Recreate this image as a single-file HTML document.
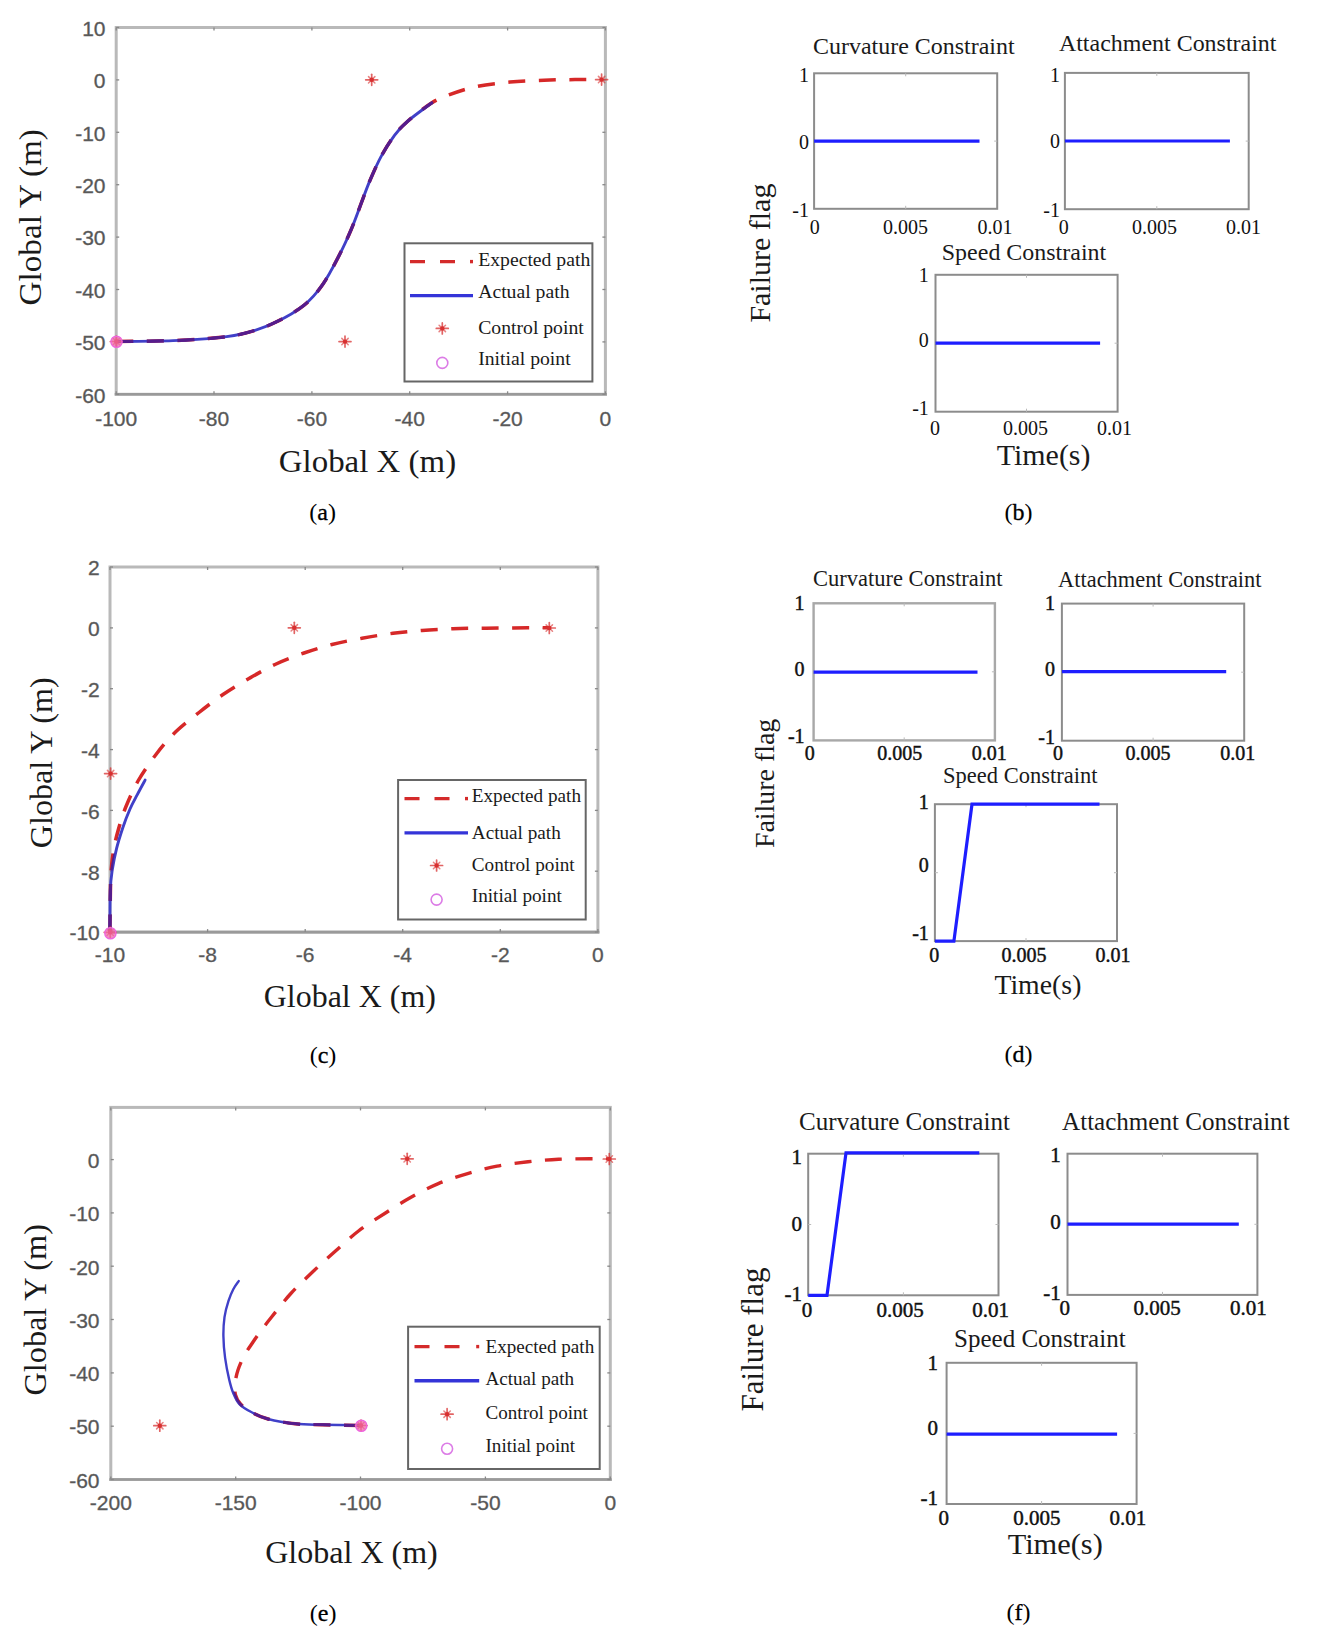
<!DOCTYPE html><html><head><meta charset="utf-8"><style>html,body{margin:0;padding:0;background:#fff;overflow:hidden;}svg{display:block;}</style></head><body>
<svg width="1324" height="1642" viewBox="0 0 1324 1642">
<rect width="1324" height="1642" fill="#fff"/>
<rect x="116.2" y="27.5" width="489.2" height="366.8" fill="#fff" stroke="#b9b9b9" stroke-width="3.0"/>
<line x1="114.7" y1="394.3" x2="606.9" y2="394.3" stroke="#9a9a9a" stroke-width="2.6"/>
<g stroke="#888" stroke-width="1.3">
<line x1="116.2" y1="394.3" x2="116.2" y2="391.3"/>
<line x1="116.2" y1="27.5" x2="116.2" y2="30.5"/>
<line x1="214.0" y1="394.3" x2="214.0" y2="391.3"/>
<line x1="214.0" y1="27.5" x2="214.0" y2="30.5"/>
<line x1="311.9" y1="394.3" x2="311.9" y2="391.3"/>
<line x1="311.9" y1="27.5" x2="311.9" y2="30.5"/>
<line x1="409.7" y1="394.3" x2="409.7" y2="391.3"/>
<line x1="409.7" y1="27.5" x2="409.7" y2="30.5"/>
<line x1="507.6" y1="394.3" x2="507.6" y2="391.3"/>
<line x1="507.6" y1="27.5" x2="507.6" y2="30.5"/>
<line x1="605.4" y1="394.3" x2="605.4" y2="391.3"/>
<line x1="605.4" y1="27.5" x2="605.4" y2="30.5"/>
<line x1="116.2" y1="27.5" x2="119.2" y2="27.5"/>
<line x1="605.4" y1="27.5" x2="602.4" y2="27.5"/>
<line x1="116.2" y1="79.9" x2="119.2" y2="79.9"/>
<line x1="605.4" y1="79.9" x2="602.4" y2="79.9"/>
<line x1="116.2" y1="132.3" x2="119.2" y2="132.3"/>
<line x1="605.4" y1="132.3" x2="602.4" y2="132.3"/>
<line x1="116.2" y1="184.7" x2="119.2" y2="184.7"/>
<line x1="605.4" y1="184.7" x2="602.4" y2="184.7"/>
<line x1="116.2" y1="237.1" x2="119.2" y2="237.1"/>
<line x1="605.4" y1="237.1" x2="602.4" y2="237.1"/>
<line x1="116.2" y1="289.5" x2="119.2" y2="289.5"/>
<line x1="605.4" y1="289.5" x2="602.4" y2="289.5"/>
<line x1="116.2" y1="341.9" x2="119.2" y2="341.9"/>
<line x1="605.4" y1="341.9" x2="602.4" y2="341.9"/>
<line x1="116.2" y1="394.3" x2="119.2" y2="394.3"/>
<line x1="605.4" y1="394.3" x2="602.4" y2="394.3"/>
</g>
<text x="116.2" y="425.8" font-family="'Liberation Sans',Arial,sans-serif" font-size="21.0" text-anchor="middle" fill="#555" stroke="#666" stroke-width="0.35">-100</text>
<text x="214.0" y="425.8" font-family="'Liberation Sans',Arial,sans-serif" font-size="21.0" text-anchor="middle" fill="#555" stroke="#666" stroke-width="0.35">-80</text>
<text x="311.9" y="425.8" font-family="'Liberation Sans',Arial,sans-serif" font-size="21.0" text-anchor="middle" fill="#555" stroke="#666" stroke-width="0.35">-60</text>
<text x="409.7" y="425.8" font-family="'Liberation Sans',Arial,sans-serif" font-size="21.0" text-anchor="middle" fill="#555" stroke="#666" stroke-width="0.35">-40</text>
<text x="507.6" y="425.8" font-family="'Liberation Sans',Arial,sans-serif" font-size="21.0" text-anchor="middle" fill="#555" stroke="#666" stroke-width="0.35">-20</text>
<text x="605.4" y="425.8" font-family="'Liberation Sans',Arial,sans-serif" font-size="21.0" text-anchor="middle" fill="#555" stroke="#666" stroke-width="0.35">0</text>
<text x="105.5" y="35.7" font-family="'Liberation Sans',Arial,sans-serif" font-size="21.0" text-anchor="end" fill="#555" stroke="#666" stroke-width="0.35">10</text>
<text x="105.5" y="88.1" font-family="'Liberation Sans',Arial,sans-serif" font-size="21.0" text-anchor="end" fill="#555" stroke="#666" stroke-width="0.35">0</text>
<text x="105.5" y="140.5" font-family="'Liberation Sans',Arial,sans-serif" font-size="21.0" text-anchor="end" fill="#555" stroke="#666" stroke-width="0.35">-10</text>
<text x="105.5" y="192.9" font-family="'Liberation Sans',Arial,sans-serif" font-size="21.0" text-anchor="end" fill="#555" stroke="#666" stroke-width="0.35">-20</text>
<text x="105.5" y="245.3" font-family="'Liberation Sans',Arial,sans-serif" font-size="21.0" text-anchor="end" fill="#555" stroke="#666" stroke-width="0.35">-30</text>
<text x="105.5" y="297.7" font-family="'Liberation Sans',Arial,sans-serif" font-size="21.0" text-anchor="end" fill="#555" stroke="#666" stroke-width="0.35">-40</text>
<text x="105.5" y="350.1" font-family="'Liberation Sans',Arial,sans-serif" font-size="21.0" text-anchor="end" fill="#555" stroke="#666" stroke-width="0.35">-50</text>
<text x="105.5" y="402.5" font-family="'Liberation Sans',Arial,sans-serif" font-size="21.0" text-anchor="end" fill="#555" stroke="#666" stroke-width="0.35">-60</text>
<defs><mask id="ov1" maskUnits="userSpaceOnUse" x="0" y="0" width="1324" height="1642"><path d="M116.3,341.5 C125.8,341.4 155.9,341.2 173.0,340.6 C190.1,340.0 206.2,338.9 218.6,337.6 C231.0,336.3 237.7,335.2 247.2,332.6 C256.7,330.1 266.1,326.9 275.5,322.3 C284.9,317.8 296.0,311.6 303.9,305.3 C311.8,299.0 316.7,293.0 322.7,284.5 C328.7,276.0 335.0,263.4 339.7,254.3 C344.4,245.2 347.6,237.9 351.1,229.7 C354.6,221.5 357.4,213.4 360.5,205.2 C363.6,197.0 366.4,188.8 369.9,180.6 C373.4,172.4 377.2,163.6 381.3,156.1 C385.4,148.6 390.1,141.1 394.5,135.3 C398.9,129.5 401.5,126.6 407.7,121.2 C413.9,115.8 427.5,106.1 431.5,103.1" fill="none" stroke="#fff" stroke-width="4" stroke-linecap="round"/></mask></defs>
<path d="M116.3,341.5 C125.8,341.4 155.9,341.2 173.0,340.6 C190.1,340.0 206.2,338.9 218.6,337.6 C231.0,336.3 237.7,335.2 247.2,332.6 C256.7,330.1 266.1,326.9 275.5,322.3 C284.9,317.8 296.0,311.6 303.9,305.3 C311.8,299.0 316.7,293.0 322.7,284.5 C328.7,276.0 335.0,263.4 339.7,254.3 C344.4,245.2 347.6,237.9 351.1,229.7 C354.6,221.5 357.4,213.4 360.5,205.2 C363.6,197.0 366.4,188.8 369.9,180.6 C373.4,172.4 377.2,163.6 381.3,156.1 C385.4,148.6 390.1,141.1 394.5,135.3 C398.9,129.5 401.5,126.6 407.7,121.2 C413.9,115.8 424.6,107.5 431.5,103.1 C438.4,98.7 441.4,97.8 448.8,95.0 C456.2,92.2 465.8,88.8 476.0,86.6 C486.2,84.4 498.7,83.2 510.0,82.1 C521.3,81.0 533.2,80.6 544.0,80.2 C554.8,79.8 565.4,79.7 575.0,79.6 C584.6,79.5 597.1,79.6 601.5,79.6" fill="none" stroke="#d62828" stroke-width="3.5" stroke-dasharray="17,13.5"/>
<path d="M116.3,341.5 C125.8,341.4 155.9,341.2 173.0,340.6 C190.1,340.0 206.2,338.9 218.6,337.6 C231.0,336.3 237.7,335.2 247.2,332.6 C256.7,330.1 266.1,326.9 275.5,322.3 C284.9,317.8 296.0,311.6 303.9,305.3 C311.8,299.0 316.7,293.0 322.7,284.5 C328.7,276.0 335.0,263.4 339.7,254.3 C344.4,245.2 347.6,237.9 351.1,229.7 C354.6,221.5 357.4,213.4 360.5,205.2 C363.6,197.0 366.4,188.8 369.9,180.6 C373.4,172.4 377.2,163.6 381.3,156.1 C385.4,148.6 390.1,141.1 394.5,135.3 C398.9,129.5 401.5,126.6 407.7,121.2 C413.9,115.8 427.5,106.1 431.5,103.1" fill="none" stroke="#4040c8" stroke-width="2.9" stroke-linecap="round"/>
<path d="M116.3,341.5 C125.8,341.4 155.9,341.2 173.0,340.6 C190.1,340.0 206.2,338.9 218.6,337.6 C231.0,336.3 237.7,335.2 247.2,332.6 C256.7,330.1 266.1,326.9 275.5,322.3 C284.9,317.8 296.0,311.6 303.9,305.3 C311.8,299.0 316.7,293.0 322.7,284.5 C328.7,276.0 335.0,263.4 339.7,254.3 C344.4,245.2 347.6,237.9 351.1,229.7 C354.6,221.5 357.4,213.4 360.5,205.2 C363.6,197.0 366.4,188.8 369.9,180.6 C373.4,172.4 377.2,163.6 381.3,156.1 C385.4,148.6 390.1,141.1 394.5,135.3 C398.9,129.5 401.5,126.6 407.7,121.2 C413.9,115.8 424.6,107.5 431.5,103.1 C438.4,98.7 441.4,97.8 448.8,95.0 C456.2,92.2 465.8,88.8 476.0,86.6 C486.2,84.4 498.7,83.2 510.0,82.1 C521.3,81.0 533.2,80.6 544.0,80.2 C554.8,79.8 565.4,79.7 575.0,79.6 C584.6,79.5 597.1,79.6 601.5,79.6" fill="none" stroke="#561c8c" stroke-width="3.2" stroke-dasharray="17,13.5" mask="url(#ov1)"/>
<g stroke="#d83030" stroke-linecap="round" fill="#d83030">
<line x1="365.7" y1="79.8" x2="377.7" y2="79.8" stroke-width="1.7" stroke-opacity="0.75"/>
<line x1="371.7" y1="74.3" x2="371.7" y2="85.3" stroke-width="1.7" stroke-opacity="0.75"/>
<line x1="368.5" y1="76.6" x2="374.9" y2="83.0" stroke-width="1.5" stroke-opacity="0.6"/>
<line x1="368.5" y1="83.0" x2="374.9" y2="76.6" stroke-width="1.5" stroke-opacity="0.6"/>
<circle cx="371.7" cy="79.8" r="2.2" stroke="none"/>
</g>
<g stroke="#d83030" stroke-linecap="round" fill="#d83030">
<line x1="339.0" y1="341.6" x2="351.0" y2="341.6" stroke-width="1.7" stroke-opacity="0.75"/>
<line x1="345.0" y1="336.1" x2="345.0" y2="347.1" stroke-width="1.7" stroke-opacity="0.75"/>
<line x1="341.8" y1="338.4" x2="348.2" y2="344.8" stroke-width="1.5" stroke-opacity="0.6"/>
<line x1="341.8" y1="344.8" x2="348.2" y2="338.4" stroke-width="1.5" stroke-opacity="0.6"/>
<circle cx="345.0" cy="341.6" r="2.2" stroke="none"/>
</g>
<g stroke="#d83030" stroke-linecap="round" fill="#d83030">
<line x1="595.6" y1="79.6" x2="607.6" y2="79.6" stroke-width="1.7" stroke-opacity="0.75"/>
<line x1="601.6" y1="74.1" x2="601.6" y2="85.1" stroke-width="1.7" stroke-opacity="0.75"/>
<line x1="598.4" y1="76.4" x2="604.8" y2="82.8" stroke-width="1.5" stroke-opacity="0.6"/>
<line x1="598.4" y1="82.8" x2="604.8" y2="76.4" stroke-width="1.5" stroke-opacity="0.6"/>
<circle cx="601.6" cy="79.6" r="2.2" stroke="none"/>
</g>
<g stroke="#d83030" stroke-linecap="round" fill="#d83030">
<line x1="110.3" y1="341.5" x2="122.3" y2="341.5" stroke-width="1.7" stroke-opacity="0.75"/>
<line x1="116.3" y1="336.0" x2="116.3" y2="347.0" stroke-width="1.7" stroke-opacity="0.75"/>
<line x1="113.1" y1="338.3" x2="119.5" y2="344.7" stroke-width="1.5" stroke-opacity="0.6"/>
<line x1="113.1" y1="344.7" x2="119.5" y2="338.3" stroke-width="1.5" stroke-opacity="0.6"/>
<circle cx="116.3" cy="341.5" r="2.2" stroke="none"/>
</g>
<circle cx="116.5" cy="341.8" r="5.6" fill="#f06aa8" fill-opacity="0.75" stroke="#ee66dd" stroke-width="1.4"/>
<rect x="404.5" y="243.3" width="187.9" height="138.2" fill="#fff" stroke="#666" stroke-width="2"/>
<path d="M410.0,261.6 H459.0" stroke="#d42a2a" stroke-width="3.4" stroke-dasharray="15,15"/>
<rect x="470.0" y="259.9" width="3" height="3.4" fill="#d42a2a"/>
<path d="M410.0,295.6 H473.0" stroke="#3434d8" stroke-width="3.4"/>
<g stroke="#d83030" stroke-linecap="round" fill="#d83030">
<line x1="436.3" y1="328.4" x2="448.3" y2="328.4" stroke-width="1.7" stroke-opacity="0.75"/>
<line x1="442.3" y1="322.9" x2="442.3" y2="333.9" stroke-width="1.7" stroke-opacity="0.75"/>
<line x1="439.1" y1="325.2" x2="445.5" y2="331.6" stroke-width="1.5" stroke-opacity="0.6"/>
<line x1="439.1" y1="331.6" x2="445.5" y2="325.2" stroke-width="1.5" stroke-opacity="0.6"/>
<circle cx="442.3" cy="328.4" r="2.2" stroke="none"/>
</g>
<circle cx="442.3" cy="362.9" r="5.5" fill="none" stroke="#dc7ce6" stroke-width="1.6"/>
<text x="478.2" y="266.2" font-family="'Liberation Serif','Times New Roman',serif" font-size="19.7" text-anchor="start" fill="#1a1a1a" >Expected path</text>
<text x="478.2" y="298.1" font-family="'Liberation Serif','Times New Roman',serif" font-size="19.7" text-anchor="start" fill="#1a1a1a" >Actual path</text>
<text x="478.2" y="333.9" font-family="'Liberation Serif','Times New Roman',serif" font-size="19.7" text-anchor="start" fill="#1a1a1a" >Control point</text>
<text x="478.2" y="364.9" font-family="'Liberation Serif','Times New Roman',serif" font-size="19.7" text-anchor="start" fill="#1a1a1a" >Initial point</text>
<text x="278.8" y="471.5" font-family="'Liberation Serif','Times New Roman',serif" font-size="32.2" fill="#1a1a1a" textLength="177.3" lengthAdjust="spacingAndGlyphs" >Global X (m)</text>
<text transform="translate(40.8,217.3) rotate(-90)" x="0" y="0" font-family="'Liberation Serif','Times New Roman',serif" font-size="32.2" text-anchor="middle" fill="#1a1a1a" textLength="176.3" lengthAdjust="spacingAndGlyphs">Global Y (m)</text>
<text x="322.7" y="519.6" font-family="'Liberation Serif','Times New Roman',serif" font-size="24" text-anchor="middle" fill="#000">(<tspan stroke="#000" stroke-width="0.3">a</tspan>)</text>
<rect x="110.0" y="567.0" width="487.9" height="365.1" fill="#fff" stroke="#b9b9b9" stroke-width="3.0"/>
<line x1="108.5" y1="932.1" x2="599.4" y2="932.1" stroke="#9a9a9a" stroke-width="2.6"/>
<g stroke="#888" stroke-width="1.3">
<line x1="110.0" y1="932.1" x2="110.0" y2="929.1"/>
<line x1="110.0" y1="567.0" x2="110.0" y2="570.0"/>
<line x1="207.6" y1="932.1" x2="207.6" y2="929.1"/>
<line x1="207.6" y1="567.0" x2="207.6" y2="570.0"/>
<line x1="305.2" y1="932.1" x2="305.2" y2="929.1"/>
<line x1="305.2" y1="567.0" x2="305.2" y2="570.0"/>
<line x1="402.7" y1="932.1" x2="402.7" y2="929.1"/>
<line x1="402.7" y1="567.0" x2="402.7" y2="570.0"/>
<line x1="500.3" y1="932.1" x2="500.3" y2="929.1"/>
<line x1="500.3" y1="567.0" x2="500.3" y2="570.0"/>
<line x1="597.9" y1="932.1" x2="597.9" y2="929.1"/>
<line x1="597.9" y1="567.0" x2="597.9" y2="570.0"/>
<line x1="110.0" y1="567.0" x2="113.0" y2="567.0"/>
<line x1="597.9" y1="567.0" x2="594.9" y2="567.0"/>
<line x1="110.0" y1="627.9" x2="113.0" y2="627.9"/>
<line x1="597.9" y1="627.9" x2="594.9" y2="627.9"/>
<line x1="110.0" y1="688.7" x2="113.0" y2="688.7"/>
<line x1="597.9" y1="688.7" x2="594.9" y2="688.7"/>
<line x1="110.0" y1="749.6" x2="113.0" y2="749.6"/>
<line x1="597.9" y1="749.6" x2="594.9" y2="749.6"/>
<line x1="110.0" y1="810.4" x2="113.0" y2="810.4"/>
<line x1="597.9" y1="810.4" x2="594.9" y2="810.4"/>
<line x1="110.0" y1="871.2" x2="113.0" y2="871.2"/>
<line x1="597.9" y1="871.2" x2="594.9" y2="871.2"/>
<line x1="110.0" y1="932.1" x2="113.0" y2="932.1"/>
<line x1="597.9" y1="932.1" x2="594.9" y2="932.1"/>
</g>
<text x="110.0" y="962.4" font-family="'Liberation Sans',Arial,sans-serif" font-size="21.0" text-anchor="middle" fill="#555" stroke="#666" stroke-width="0.35">-10</text>
<text x="207.6" y="962.4" font-family="'Liberation Sans',Arial,sans-serif" font-size="21.0" text-anchor="middle" fill="#555" stroke="#666" stroke-width="0.35">-8</text>
<text x="305.2" y="962.4" font-family="'Liberation Sans',Arial,sans-serif" font-size="21.0" text-anchor="middle" fill="#555" stroke="#666" stroke-width="0.35">-6</text>
<text x="402.7" y="962.4" font-family="'Liberation Sans',Arial,sans-serif" font-size="21.0" text-anchor="middle" fill="#555" stroke="#666" stroke-width="0.35">-4</text>
<text x="500.3" y="962.4" font-family="'Liberation Sans',Arial,sans-serif" font-size="21.0" text-anchor="middle" fill="#555" stroke="#666" stroke-width="0.35">-2</text>
<text x="597.9" y="962.4" font-family="'Liberation Sans',Arial,sans-serif" font-size="21.0" text-anchor="middle" fill="#555" stroke="#666" stroke-width="0.35">0</text>
<text x="99.8" y="575.2" font-family="'Liberation Sans',Arial,sans-serif" font-size="21.0" text-anchor="end" fill="#555" stroke="#666" stroke-width="0.35">2</text>
<text x="99.8" y="636.1" font-family="'Liberation Sans',Arial,sans-serif" font-size="21.0" text-anchor="end" fill="#555" stroke="#666" stroke-width="0.35">0</text>
<text x="99.8" y="696.9" font-family="'Liberation Sans',Arial,sans-serif" font-size="21.0" text-anchor="end" fill="#555" stroke="#666" stroke-width="0.35">-2</text>
<text x="99.8" y="757.8" font-family="'Liberation Sans',Arial,sans-serif" font-size="21.0" text-anchor="end" fill="#555" stroke="#666" stroke-width="0.35">-4</text>
<text x="99.8" y="818.6" font-family="'Liberation Sans',Arial,sans-serif" font-size="21.0" text-anchor="end" fill="#555" stroke="#666" stroke-width="0.35">-6</text>
<text x="99.8" y="879.5" font-family="'Liberation Sans',Arial,sans-serif" font-size="21.0" text-anchor="end" fill="#555" stroke="#666" stroke-width="0.35">-8</text>
<text x="99.8" y="940.3" font-family="'Liberation Sans',Arial,sans-serif" font-size="21.0" text-anchor="end" fill="#555" stroke="#666" stroke-width="0.35">-10</text>
<defs><mask id="ov2" maskUnits="userSpaceOnUse" x="0" y="0" width="1324" height="1642"><path d="M109.9,931.5 C110.0,924.5 109.9,900.2 110.3,889.8 C110.7,879.4 111.4,876.0 112.4,869.1 C113.5,862.2 114.9,855.3 116.6,848.4 C118.3,841.5 120.6,834.3 122.8,827.7 C125.0,821.1 127.6,814.5 130.0,809.0 C132.4,803.5 134.8,799.4 137.3,794.6 C139.8,789.8 143.8,782.5 145.1,780.1" fill="none" stroke="#fff" stroke-width="4" stroke-linecap="round"/></mask></defs>
<path d="M109.9,931.5 C110.0,926.2 110.1,909.9 110.3,900.0 C110.5,890.1 110.4,880.5 111.0,872.0 C111.6,863.5 112.5,856.2 113.8,849.0 C115.0,841.8 116.5,836.0 118.5,829.0 C120.5,822.0 122.5,815.0 125.8,807.0 C129.1,799.0 133.0,789.8 138.0,781.0 C143.0,772.2 149.7,762.8 156.0,754.5 C162.3,746.2 168.8,738.5 176.0,731.5 C183.2,724.5 191.2,718.7 199.0,712.5 C206.8,706.3 214.7,700.2 223.0,694.5 C231.3,688.8 240.3,683.5 249.0,678.5 C257.7,673.5 265.8,668.8 275.0,664.5 C284.2,660.2 294.5,656.3 304.0,653.0 C313.5,649.7 322.3,647.0 332.0,644.5 C341.7,642.0 351.8,640.2 362.0,638.3 C372.2,636.4 383.0,634.6 393.0,633.3 C403.0,632.0 412.0,631.2 422.0,630.4 C432.0,629.6 443.0,629.1 453.0,628.7 C463.0,628.3 472.0,628.3 482.0,628.2 C492.0,628.1 501.8,628.0 513.0,627.9 C524.2,627.8 543.2,627.8 549.3,627.8" fill="none" stroke="#d62828" stroke-width="3.5" stroke-dasharray="17,13.5"/>
<path d="M109.9,931.5 C110.0,924.5 109.9,900.2 110.3,889.8 C110.7,879.4 111.4,876.0 112.4,869.1 C113.5,862.2 114.9,855.3 116.6,848.4 C118.3,841.5 120.6,834.3 122.8,827.7 C125.0,821.1 127.6,814.5 130.0,809.0 C132.4,803.5 134.8,799.4 137.3,794.6 C139.8,789.8 143.8,782.5 145.1,780.1" fill="none" stroke="#4040c8" stroke-width="2.9" stroke-linecap="round"/>
<path d="M109.9,931.5 C110.0,926.2 110.1,909.9 110.3,900.0 C110.5,890.1 110.4,880.5 111.0,872.0 C111.6,863.5 112.5,856.2 113.8,849.0 C115.0,841.8 116.5,836.0 118.5,829.0 C120.5,822.0 122.5,815.0 125.8,807.0 C129.1,799.0 133.0,789.8 138.0,781.0 C143.0,772.2 149.7,762.8 156.0,754.5 C162.3,746.2 168.8,738.5 176.0,731.5 C183.2,724.5 191.2,718.7 199.0,712.5 C206.8,706.3 214.7,700.2 223.0,694.5 C231.3,688.8 240.3,683.5 249.0,678.5 C257.7,673.5 265.8,668.8 275.0,664.5 C284.2,660.2 294.5,656.3 304.0,653.0 C313.5,649.7 322.3,647.0 332.0,644.5 C341.7,642.0 351.8,640.2 362.0,638.3 C372.2,636.4 383.0,634.6 393.0,633.3 C403.0,632.0 412.0,631.2 422.0,630.4 C432.0,629.6 443.0,629.1 453.0,628.7 C463.0,628.3 472.0,628.3 482.0,628.2 C492.0,628.1 501.8,628.0 513.0,627.9 C524.2,627.8 543.2,627.8 549.3,627.8" fill="none" stroke="#561c8c" stroke-width="3.2" stroke-dasharray="17,13.5" mask="url(#ov2)"/>
<g stroke="#d83030" stroke-linecap="round" fill="#d83030">
<line x1="288.3" y1="627.8" x2="300.3" y2="627.8" stroke-width="1.7" stroke-opacity="0.75"/>
<line x1="294.3" y1="622.3" x2="294.3" y2="633.3" stroke-width="1.7" stroke-opacity="0.75"/>
<line x1="291.1" y1="624.6" x2="297.5" y2="631.0" stroke-width="1.5" stroke-opacity="0.6"/>
<line x1="291.1" y1="631.0" x2="297.5" y2="624.6" stroke-width="1.5" stroke-opacity="0.6"/>
<circle cx="294.3" cy="627.8" r="2.2" stroke="none"/>
</g>
<g stroke="#d83030" stroke-linecap="round" fill="#d83030">
<line x1="104.6" y1="773.6" x2="116.6" y2="773.6" stroke-width="1.7" stroke-opacity="0.75"/>
<line x1="110.6" y1="768.1" x2="110.6" y2="779.1" stroke-width="1.7" stroke-opacity="0.75"/>
<line x1="107.4" y1="770.4" x2="113.8" y2="776.8" stroke-width="1.5" stroke-opacity="0.6"/>
<line x1="107.4" y1="776.8" x2="113.8" y2="770.4" stroke-width="1.5" stroke-opacity="0.6"/>
<circle cx="110.6" cy="773.6" r="2.2" stroke="none"/>
</g>
<g stroke="#d83030" stroke-linecap="round" fill="#d83030">
<line x1="543.3" y1="628.0" x2="555.3" y2="628.0" stroke-width="1.7" stroke-opacity="0.75"/>
<line x1="549.3" y1="622.5" x2="549.3" y2="633.5" stroke-width="1.7" stroke-opacity="0.75"/>
<line x1="546.1" y1="624.8" x2="552.5" y2="631.2" stroke-width="1.5" stroke-opacity="0.6"/>
<line x1="546.1" y1="631.2" x2="552.5" y2="624.8" stroke-width="1.5" stroke-opacity="0.6"/>
<circle cx="549.3" cy="628.0" r="2.2" stroke="none"/>
</g>
<g stroke="#d83030" stroke-linecap="round" fill="#d83030">
<line x1="104.2" y1="932.3" x2="116.2" y2="932.3" stroke-width="1.7" stroke-opacity="0.75"/>
<line x1="110.2" y1="926.8" x2="110.2" y2="937.8" stroke-width="1.7" stroke-opacity="0.75"/>
<line x1="107.0" y1="929.1" x2="113.4" y2="935.5" stroke-width="1.5" stroke-opacity="0.6"/>
<line x1="107.0" y1="935.5" x2="113.4" y2="929.1" stroke-width="1.5" stroke-opacity="0.6"/>
<circle cx="110.2" cy="932.3" r="2.2" stroke="none"/>
</g>
<circle cx="110.4" cy="933.2" r="5.6" fill="#f06aa8" fill-opacity="0.75" stroke="#ee66dd" stroke-width="1.4"/>
<rect x="398.1" y="780.0" width="187.6" height="139.5" fill="#fff" stroke="#666" stroke-width="2"/>
<path d="M404.5,798.6 H453.5" stroke="#d42a2a" stroke-width="3.4" stroke-dasharray="15,15"/>
<rect x="465.0" y="796.9" width="3" height="3.4" fill="#d42a2a"/>
<path d="M404.5,832.9 H468.0" stroke="#3434d8" stroke-width="3.4"/>
<g stroke="#d83030" stroke-linecap="round" fill="#d83030">
<line x1="430.6" y1="865.5" x2="442.6" y2="865.5" stroke-width="1.7" stroke-opacity="0.75"/>
<line x1="436.6" y1="860.0" x2="436.6" y2="871.0" stroke-width="1.7" stroke-opacity="0.75"/>
<line x1="433.4" y1="862.3" x2="439.8" y2="868.7" stroke-width="1.5" stroke-opacity="0.6"/>
<line x1="433.4" y1="868.7" x2="439.8" y2="862.3" stroke-width="1.5" stroke-opacity="0.6"/>
<circle cx="436.6" cy="865.5" r="2.2" stroke="none"/>
</g>
<circle cx="436.6" cy="899.6" r="5.5" fill="none" stroke="#dc7ce6" stroke-width="1.6"/>
<text x="471.8" y="801.7" font-family="'Liberation Serif','Times New Roman',serif" font-size="19.2" text-anchor="start" fill="#1a1a1a" >Expected path</text>
<text x="471.8" y="839.4" font-family="'Liberation Serif','Times New Roman',serif" font-size="19.2" text-anchor="start" fill="#1a1a1a" >Actual path</text>
<text x="471.8" y="870.6" font-family="'Liberation Serif','Times New Roman',serif" font-size="19.2" text-anchor="start" fill="#1a1a1a" >Control point</text>
<text x="471.8" y="902.3" font-family="'Liberation Serif','Times New Roman',serif" font-size="19.2" text-anchor="start" fill="#1a1a1a" >Initial point</text>
<text x="263.8" y="1006.8" font-family="'Liberation Serif','Times New Roman',serif" font-size="31.3" fill="#1a1a1a" textLength="172.1" lengthAdjust="spacingAndGlyphs" >Global X (m)</text>
<text transform="translate(52.2,762.8) rotate(-90)" x="0" y="0" font-family="'Liberation Serif','Times New Roman',serif" font-size="31.4" text-anchor="middle" fill="#1a1a1a" textLength="170.9" lengthAdjust="spacingAndGlyphs">Global Y (m)</text>
<text x="323" y="1063" font-family="'Liberation Serif','Times New Roman',serif" font-size="24" text-anchor="middle" fill="#000">(<tspan stroke="#000" stroke-width="0.3">c</tspan>)</text>
<rect x="110.8" y="1107.4" width="499.5" height="372.1" fill="#fff" stroke="#b9b9b9" stroke-width="3.0"/>
<line x1="109.3" y1="1479.5" x2="611.8" y2="1479.5" stroke="#9a9a9a" stroke-width="2.6"/>
<g stroke="#888" stroke-width="1.3">
<line x1="110.8" y1="1479.5" x2="110.8" y2="1476.5"/>
<line x1="110.8" y1="1107.4" x2="110.8" y2="1110.4"/>
<line x1="235.7" y1="1479.5" x2="235.7" y2="1476.5"/>
<line x1="235.7" y1="1107.4" x2="235.7" y2="1110.4"/>
<line x1="360.5" y1="1479.5" x2="360.5" y2="1476.5"/>
<line x1="360.5" y1="1107.4" x2="360.5" y2="1110.4"/>
<line x1="485.4" y1="1479.5" x2="485.4" y2="1476.5"/>
<line x1="485.4" y1="1107.4" x2="485.4" y2="1110.4"/>
<line x1="610.3" y1="1479.5" x2="610.3" y2="1476.5"/>
<line x1="610.3" y1="1107.4" x2="610.3" y2="1110.4"/>
<line x1="110.8" y1="1159.6" x2="113.8" y2="1159.6"/>
<line x1="610.3" y1="1159.6" x2="607.3" y2="1159.6"/>
<line x1="110.8" y1="1212.9" x2="113.8" y2="1212.9"/>
<line x1="610.3" y1="1212.9" x2="607.3" y2="1212.9"/>
<line x1="110.8" y1="1266.2" x2="113.8" y2="1266.2"/>
<line x1="610.3" y1="1266.2" x2="607.3" y2="1266.2"/>
<line x1="110.8" y1="1319.5" x2="113.8" y2="1319.5"/>
<line x1="610.3" y1="1319.5" x2="607.3" y2="1319.5"/>
<line x1="110.8" y1="1372.9" x2="113.8" y2="1372.9"/>
<line x1="610.3" y1="1372.9" x2="607.3" y2="1372.9"/>
<line x1="110.8" y1="1426.2" x2="113.8" y2="1426.2"/>
<line x1="610.3" y1="1426.2" x2="607.3" y2="1426.2"/>
<line x1="110.8" y1="1479.5" x2="113.8" y2="1479.5"/>
<line x1="610.3" y1="1479.5" x2="607.3" y2="1479.5"/>
</g>
<text x="110.8" y="1510.2" font-family="'Liberation Sans',Arial,sans-serif" font-size="21.0" text-anchor="middle" fill="#555" stroke="#666" stroke-width="0.35">-200</text>
<text x="235.7" y="1510.2" font-family="'Liberation Sans',Arial,sans-serif" font-size="21.0" text-anchor="middle" fill="#555" stroke="#666" stroke-width="0.35">-150</text>
<text x="360.5" y="1510.2" font-family="'Liberation Sans',Arial,sans-serif" font-size="21.0" text-anchor="middle" fill="#555" stroke="#666" stroke-width="0.35">-100</text>
<text x="485.4" y="1510.2" font-family="'Liberation Sans',Arial,sans-serif" font-size="21.0" text-anchor="middle" fill="#555" stroke="#666" stroke-width="0.35">-50</text>
<text x="610.3" y="1510.2" font-family="'Liberation Sans',Arial,sans-serif" font-size="21.0" text-anchor="middle" fill="#555" stroke="#666" stroke-width="0.35">0</text>
<text x="99.5" y="1167.8" font-family="'Liberation Sans',Arial,sans-serif" font-size="21.0" text-anchor="end" fill="#555" stroke="#666" stroke-width="0.35">0</text>
<text x="99.5" y="1221.1" font-family="'Liberation Sans',Arial,sans-serif" font-size="21.0" text-anchor="end" fill="#555" stroke="#666" stroke-width="0.35">-10</text>
<text x="99.5" y="1274.5" font-family="'Liberation Sans',Arial,sans-serif" font-size="21.0" text-anchor="end" fill="#555" stroke="#666" stroke-width="0.35">-20</text>
<text x="99.5" y="1327.8" font-family="'Liberation Sans',Arial,sans-serif" font-size="21.0" text-anchor="end" fill="#555" stroke="#666" stroke-width="0.35">-30</text>
<text x="99.5" y="1381.1" font-family="'Liberation Sans',Arial,sans-serif" font-size="21.0" text-anchor="end" fill="#555" stroke="#666" stroke-width="0.35">-40</text>
<text x="99.5" y="1434.4" font-family="'Liberation Sans',Arial,sans-serif" font-size="21.0" text-anchor="end" fill="#555" stroke="#666" stroke-width="0.35">-50</text>
<text x="99.5" y="1487.7" font-family="'Liberation Sans',Arial,sans-serif" font-size="21.0" text-anchor="end" fill="#555" stroke="#666" stroke-width="0.35">-60</text>
<defs><mask id="ov3" maskUnits="userSpaceOnUse" x="0" y="0" width="1324" height="1642"><path d="M361.1,1425.2 C354.7,1425.1 333.4,1425.0 322.4,1424.8 C311.4,1424.6 304.3,1424.8 295.2,1423.8 C286.1,1422.8 275.2,1420.9 268.0,1419.0 C260.8,1417.1 256.5,1414.8 251.7,1412.3 C246.9,1409.8 242.5,1407.3 239.4,1404.1 C236.3,1400.9 235.0,1397.3 233.3,1393.2 C231.6,1389.1 230.6,1385.5 229.2,1379.6 C227.8,1373.7 226.1,1365.2 225.1,1357.9 C224.1,1350.7 223.5,1342.9 223.4,1336.1 C223.3,1329.3 223.7,1323.0 224.5,1317.1 C225.3,1311.2 227.0,1305.4 228.5,1300.8 C230.0,1296.2 231.6,1292.5 233.3,1289.2 C235.0,1285.9 237.8,1282.4 238.7,1281.1" fill="none" stroke="#fff" stroke-width="4" stroke-linecap="round"/></mask></defs>
<path d="M361.0,1425.5 C354.6,1425.4 333.4,1425.1 322.4,1424.8 C311.4,1424.5 304.3,1424.8 295.2,1423.8 C286.1,1422.8 275.2,1420.9 268.0,1419.0 C260.8,1417.1 256.3,1414.8 251.7,1412.3 C247.1,1409.8 243.2,1406.9 240.5,1404.0 C237.8,1401.1 236.4,1398.5 235.5,1395.0 C234.6,1391.5 234.8,1387.2 235.2,1383.0 C235.6,1378.8 236.5,1374.5 238.0,1370.0 C239.5,1365.5 241.6,1360.6 244.0,1356.0 C246.4,1351.4 249.8,1346.8 252.7,1342.5 C255.6,1338.2 258.4,1334.1 261.5,1330.0 C264.6,1325.9 266.2,1323.8 271.0,1317.8 C275.8,1311.8 283.5,1301.6 290.4,1294.0 C297.3,1286.4 305.0,1279.2 312.5,1272.0 C320.0,1264.8 327.8,1257.8 335.5,1251.0 C343.2,1244.2 350.3,1237.2 358.5,1231.0 C366.7,1224.8 375.9,1219.1 384.7,1213.5 C393.4,1207.9 402.1,1202.3 411.0,1197.3 C419.9,1192.3 428.9,1187.5 438.3,1183.6 C447.7,1179.6 457.8,1176.5 467.6,1173.6 C477.4,1170.7 486.9,1168.2 497.0,1166.2 C507.1,1164.2 517.7,1163.0 528.0,1161.8 C538.3,1160.6 548.3,1159.8 558.6,1159.3 C568.9,1158.8 581.5,1158.8 590.0,1158.7 C598.5,1158.6 606.4,1158.9 609.7,1158.9" fill="none" stroke="#d62828" stroke-width="3.4" stroke-dasharray="17,13.5"/>
<path d="M361.1,1425.2 C354.7,1425.1 333.4,1425.0 322.4,1424.8 C311.4,1424.6 304.3,1424.8 295.2,1423.8 C286.1,1422.8 275.2,1420.9 268.0,1419.0 C260.8,1417.1 256.5,1414.8 251.7,1412.3 C246.9,1409.8 242.5,1407.3 239.4,1404.1 C236.3,1400.9 235.0,1397.3 233.3,1393.2 C231.6,1389.1 230.6,1385.5 229.2,1379.6 C227.8,1373.7 226.1,1365.2 225.1,1357.9 C224.1,1350.7 223.5,1342.9 223.4,1336.1 C223.3,1329.3 223.7,1323.0 224.5,1317.1 C225.3,1311.2 227.0,1305.4 228.5,1300.8 C230.0,1296.2 231.6,1292.5 233.3,1289.2 C235.0,1285.9 237.8,1282.4 238.7,1281.1" fill="none" stroke="#4040c8" stroke-width="2.4" stroke-linecap="round"/>
<path d="M361.0,1425.5 C354.6,1425.4 333.4,1425.1 322.4,1424.8 C311.4,1424.5 304.3,1424.8 295.2,1423.8 C286.1,1422.8 275.2,1420.9 268.0,1419.0 C260.8,1417.1 256.3,1414.8 251.7,1412.3 C247.1,1409.8 243.2,1406.9 240.5,1404.0 C237.8,1401.1 236.4,1398.5 235.5,1395.0 C234.6,1391.5 234.8,1387.2 235.2,1383.0 C235.6,1378.8 236.5,1374.5 238.0,1370.0 C239.5,1365.5 241.6,1360.6 244.0,1356.0 C246.4,1351.4 249.8,1346.8 252.7,1342.5 C255.6,1338.2 258.4,1334.1 261.5,1330.0 C264.6,1325.9 266.2,1323.8 271.0,1317.8 C275.8,1311.8 283.5,1301.6 290.4,1294.0 C297.3,1286.4 305.0,1279.2 312.5,1272.0 C320.0,1264.8 327.8,1257.8 335.5,1251.0 C343.2,1244.2 350.3,1237.2 358.5,1231.0 C366.7,1224.8 375.9,1219.1 384.7,1213.5 C393.4,1207.9 402.1,1202.3 411.0,1197.3 C419.9,1192.3 428.9,1187.5 438.3,1183.6 C447.7,1179.6 457.8,1176.5 467.6,1173.6 C477.4,1170.7 486.9,1168.2 497.0,1166.2 C507.1,1164.2 517.7,1163.0 528.0,1161.8 C538.3,1160.6 548.3,1159.8 558.6,1159.3 C568.9,1158.8 581.5,1158.8 590.0,1158.7 C598.5,1158.6 606.4,1158.9 609.7,1158.9" fill="none" stroke="#561c8c" stroke-width="2.9" stroke-dasharray="17,13.5" mask="url(#ov3)"/>
<g stroke="#d83030" stroke-linecap="round" fill="#d83030">
<line x1="401.2" y1="1158.8" x2="413.2" y2="1158.8" stroke-width="1.7" stroke-opacity="0.75"/>
<line x1="407.2" y1="1153.3" x2="407.2" y2="1164.3" stroke-width="1.7" stroke-opacity="0.75"/>
<line x1="404.0" y1="1155.6" x2="410.4" y2="1162.0" stroke-width="1.5" stroke-opacity="0.6"/>
<line x1="404.0" y1="1162.0" x2="410.4" y2="1155.6" stroke-width="1.5" stroke-opacity="0.6"/>
<circle cx="407.2" cy="1158.8" r="2.2" stroke="none"/>
</g>
<g stroke="#d83030" stroke-linecap="round" fill="#d83030">
<line x1="153.8" y1="1425.7" x2="165.8" y2="1425.7" stroke-width="1.7" stroke-opacity="0.75"/>
<line x1="159.8" y1="1420.2" x2="159.8" y2="1431.2" stroke-width="1.7" stroke-opacity="0.75"/>
<line x1="156.6" y1="1422.5" x2="163.0" y2="1428.9" stroke-width="1.5" stroke-opacity="0.6"/>
<line x1="156.6" y1="1428.9" x2="163.0" y2="1422.5" stroke-width="1.5" stroke-opacity="0.6"/>
<circle cx="159.8" cy="1425.7" r="2.2" stroke="none"/>
</g>
<g stroke="#d83030" stroke-linecap="round" fill="#d83030">
<line x1="603.3" y1="1159.0" x2="615.3" y2="1159.0" stroke-width="1.7" stroke-opacity="0.75"/>
<line x1="609.3" y1="1153.5" x2="609.3" y2="1164.5" stroke-width="1.7" stroke-opacity="0.75"/>
<line x1="606.1" y1="1155.8" x2="612.5" y2="1162.2" stroke-width="1.5" stroke-opacity="0.6"/>
<line x1="606.1" y1="1162.2" x2="612.5" y2="1155.8" stroke-width="1.5" stroke-opacity="0.6"/>
<circle cx="609.3" cy="1159.0" r="2.2" stroke="none"/>
</g>
<g stroke="#d83030" stroke-linecap="round" fill="#d83030">
<line x1="355.0" y1="1425.5" x2="367.0" y2="1425.5" stroke-width="1.7" stroke-opacity="0.75"/>
<line x1="361.0" y1="1420.0" x2="361.0" y2="1431.0" stroke-width="1.7" stroke-opacity="0.75"/>
<line x1="357.8" y1="1422.3" x2="364.2" y2="1428.7" stroke-width="1.5" stroke-opacity="0.6"/>
<line x1="357.8" y1="1428.7" x2="364.2" y2="1422.3" stroke-width="1.5" stroke-opacity="0.6"/>
<circle cx="361.0" cy="1425.5" r="2.2" stroke="none"/>
</g>
<circle cx="361.3" cy="1425.8" r="5.6" fill="#f06aa8" fill-opacity="0.75" stroke="#ee66dd" stroke-width="1.4"/>
<rect x="408.1" y="1326.7" width="191.6" height="142.3" fill="#fff" stroke="#666" stroke-width="2"/>
<path d="M414.5,1346.6 H463.5" stroke="#d42a2a" stroke-width="3.4" stroke-dasharray="15,15"/>
<rect x="476.2" y="1344.9" width="3" height="3.4" fill="#d42a2a"/>
<path d="M414.5,1380.7 H479.2" stroke="#3434d8" stroke-width="3.4"/>
<g stroke="#d83030" stroke-linecap="round" fill="#d83030">
<line x1="441.1" y1="1414.2" x2="453.1" y2="1414.2" stroke-width="1.7" stroke-opacity="0.75"/>
<line x1="447.1" y1="1408.7" x2="447.1" y2="1419.7" stroke-width="1.7" stroke-opacity="0.75"/>
<line x1="443.9" y1="1411.0" x2="450.3" y2="1417.4" stroke-width="1.5" stroke-opacity="0.6"/>
<line x1="443.9" y1="1417.4" x2="450.3" y2="1411.0" stroke-width="1.5" stroke-opacity="0.6"/>
<circle cx="447.1" cy="1414.2" r="2.2" stroke="none"/>
</g>
<circle cx="447.1" cy="1448.7" r="5.5" fill="none" stroke="#dc7ce6" stroke-width="1.6"/>
<text x="485.5" y="1352.6" font-family="'Liberation Serif','Times New Roman',serif" font-size="19.1" text-anchor="start" fill="#1a1a1a" >Expected path</text>
<text x="485.5" y="1385.2" font-family="'Liberation Serif','Times New Roman',serif" font-size="19.1" text-anchor="start" fill="#1a1a1a" >Actual path</text>
<text x="485.5" y="1418.8" font-family="'Liberation Serif','Times New Roman',serif" font-size="19.1" text-anchor="start" fill="#1a1a1a" >Control point</text>
<text x="485.5" y="1451.8" font-family="'Liberation Serif','Times New Roman',serif" font-size="19.1" text-anchor="start" fill="#1a1a1a" >Initial point</text>
<text x="265.2" y="1563.1" font-family="'Liberation Serif','Times New Roman',serif" font-size="31.4" fill="#1a1a1a" textLength="172.6" lengthAdjust="spacingAndGlyphs" >Global X (m)</text>
<text transform="translate(45.5,1309.8) rotate(-90)" x="0" y="0" font-family="'Liberation Serif','Times New Roman',serif" font-size="31.5" text-anchor="middle" fill="#1a1a1a" textLength="171.5" lengthAdjust="spacingAndGlyphs">Global Y (m)</text>
<text x="323.1" y="1620.5" font-family="'Liberation Serif','Times New Roman',serif" font-size="24" text-anchor="middle" fill="#000">(<tspan stroke="#000" stroke-width="0.3">e</tspan>)</text>
<rect x="814.1" y="73.3" width="183.1" height="135.5" fill="#fff" stroke="#8c8c8c" stroke-width="2.0"/>
<g stroke="#bbb" stroke-width="1">
<line x1="905.7" y1="208.8" x2="905.7" y2="205.8"/>
<line x1="905.7" y1="73.3" x2="905.7" y2="76.3"/>
<line x1="814.1" y1="141.1" x2="817.1" y2="141.1"/>
<line x1="997.2" y1="141.1" x2="994.2" y2="141.1"/>
</g>
<text x="813.0" y="53.5" font-family="'Liberation Serif','Times New Roman',serif" font-size="24.0" fill="#1a1a1a" textLength="201.6" lengthAdjust="spacingAndGlyphs" >Curvature Constraint</text>
<text x="809.0" y="82.1" font-family="'Liberation Serif','Times New Roman',serif" font-size="20.0" text-anchor="end" fill="#111" >1</text>
<text x="809.0" y="149.0" font-family="'Liberation Serif','Times New Roman',serif" font-size="20.0" text-anchor="end" fill="#111" >0</text>
<text x="809.0" y="216.9" font-family="'Liberation Serif','Times New Roman',serif" font-size="20.0" text-anchor="end" fill="#111" >-1</text>
<text x="814.8" y="234.1" font-family="'Liberation Serif','Times New Roman',serif" font-size="20.0" text-anchor="middle" fill="#111" >0</text>
<text x="905.4" y="234.1" font-family="'Liberation Serif','Times New Roman',serif" font-size="20.0" text-anchor="middle" fill="#111" >0.005</text>
<text x="995.0" y="234.1" font-family="'Liberation Serif','Times New Roman',serif" font-size="20.0" text-anchor="middle" fill="#111" >0.01</text>
<path d="M814.1,141.2 L979.5,141.2" fill="none" stroke="#1e1eff" stroke-width="3.2" stroke-linejoin="miter"/>
<rect x="1064.9" y="72.9" width="183.8" height="136.3" fill="#fff" stroke="#8c8c8c" stroke-width="2.0"/>
<g stroke="#bbb" stroke-width="1">
<line x1="1156.8" y1="209.2" x2="1156.8" y2="206.2"/>
<line x1="1156.8" y1="72.9" x2="1156.8" y2="75.9"/>
<line x1="1064.9" y1="141.1" x2="1067.9" y2="141.1"/>
<line x1="1248.7" y1="141.1" x2="1245.7" y2="141.1"/>
</g>
<text x="1058.9" y="50.6" font-family="'Liberation Serif','Times New Roman',serif" font-size="24.0" fill="#1a1a1a" textLength="217.6" lengthAdjust="spacingAndGlyphs" >Attachment Constraint</text>
<text x="1060.0" y="81.6" font-family="'Liberation Serif','Times New Roman',serif" font-size="20.0" text-anchor="end" fill="#111" >1</text>
<text x="1060.0" y="148.3" font-family="'Liberation Serif','Times New Roman',serif" font-size="20.0" text-anchor="end" fill="#111" >0</text>
<text x="1060.0" y="216.5" font-family="'Liberation Serif','Times New Roman',serif" font-size="20.0" text-anchor="end" fill="#111" >-1</text>
<text x="1063.8" y="233.6" font-family="'Liberation Serif','Times New Roman',serif" font-size="20.0" text-anchor="middle" fill="#111" >0</text>
<text x="1154.4" y="233.6" font-family="'Liberation Serif','Times New Roman',serif" font-size="20.0" text-anchor="middle" fill="#111" >0.005</text>
<text x="1243.6" y="233.6" font-family="'Liberation Serif','Times New Roman',serif" font-size="20.0" text-anchor="middle" fill="#111" >0.01</text>
<path d="M1064.9,141.0 L1229.9,141.0" fill="none" stroke="#1e1eff" stroke-width="3.2" stroke-linejoin="miter"/>
<rect x="935.5" y="274.8" width="182.1" height="136.9" fill="#fff" stroke="#8c8c8c" stroke-width="2.0"/>
<g stroke="#bbb" stroke-width="1">
<line x1="1026.5" y1="411.7" x2="1026.5" y2="408.7"/>
<line x1="1026.5" y1="274.8" x2="1026.5" y2="277.8"/>
<line x1="935.5" y1="343.2" x2="938.5" y2="343.2"/>
<line x1="1117.6" y1="343.2" x2="1114.6" y2="343.2"/>
</g>
<text x="941.8" y="260.0" font-family="'Liberation Serif','Times New Roman',serif" font-size="24.0" fill="#1a1a1a" textLength="164.4" lengthAdjust="spacingAndGlyphs" >Speed Constraint</text>
<text x="928.8" y="282.3" font-family="'Liberation Serif','Times New Roman',serif" font-size="20.0" text-anchor="end" fill="#111" >1</text>
<text x="928.8" y="347.3" font-family="'Liberation Serif','Times New Roman',serif" font-size="20.0" text-anchor="end" fill="#111" >0</text>
<text x="928.8" y="415.3" font-family="'Liberation Serif','Times New Roman',serif" font-size="20.0" text-anchor="end" fill="#111" >-1</text>
<text x="934.9" y="435.3" font-family="'Liberation Serif','Times New Roman',serif" font-size="20.0" text-anchor="middle" fill="#111" >0</text>
<text x="1025.5" y="435.3" font-family="'Liberation Serif','Times New Roman',serif" font-size="20.0" text-anchor="middle" fill="#111" >0.005</text>
<text x="1114.6" y="435.3" font-family="'Liberation Serif','Times New Roman',serif" font-size="20.0" text-anchor="middle" fill="#111" >0.01</text>
<path d="M935.5,343.1 L1100.1,343.1" fill="none" stroke="#1e1eff" stroke-width="3.2" stroke-linejoin="miter"/>
<text x="996.8" y="464.6" font-family="'Liberation Serif','Times New Roman',serif" font-size="30.0" fill="#1a1a1a" textLength="93.7" lengthAdjust="spacingAndGlyphs" >Time(s)</text>
<text transform="translate(770.2,253.1) rotate(-90)" x="0" y="0" font-family="'Liberation Serif','Times New Roman',serif" font-size="30.0" text-anchor="middle" fill="#1a1a1a" textLength="139.0" lengthAdjust="spacingAndGlyphs">Failure flag</text>
<text x="1018.5" y="519.9" font-family="'Liberation Serif','Times New Roman',serif" font-size="24" text-anchor="middle" fill="#000">(<tspan stroke="#000" stroke-width="0.3">b</tspan>)</text>
<rect x="813.6" y="603.3" width="181.3" height="137.1" fill="#fff" stroke="#a8a8a8" stroke-width="2.4"/>
<g stroke="#bbb" stroke-width="1">
<line x1="904.2" y1="740.4" x2="904.2" y2="737.4"/>
<line x1="904.2" y1="603.3" x2="904.2" y2="606.3"/>
<line x1="813.6" y1="671.8" x2="816.6" y2="671.8"/>
<line x1="994.9" y1="671.8" x2="991.9" y2="671.8"/>
</g>
<text x="813.0" y="586.3" font-family="'Liberation Serif','Times New Roman',serif" font-size="22.5" fill="#1a1a1a" textLength="189.4" lengthAdjust="spacingAndGlyphs" >Curvature Constraint</text>
<text x="804.6" y="610.3" font-family="'Liberation Serif','Times New Roman',serif" font-size="20.0" text-anchor="end" fill="#111" stroke="#111" stroke-width="0.45">1</text>
<text x="804.6" y="676.0" font-family="'Liberation Serif','Times New Roman',serif" font-size="20.0" text-anchor="end" fill="#111" stroke="#111" stroke-width="0.45">0</text>
<text x="804.6" y="742.9" font-family="'Liberation Serif','Times New Roman',serif" font-size="20.0" text-anchor="end" fill="#111" stroke="#111" stroke-width="0.45">-1</text>
<text x="809.8" y="760.1" font-family="'Liberation Serif','Times New Roman',serif" font-size="20.0" text-anchor="middle" fill="#111" stroke="#111" stroke-width="0.45">0</text>
<text x="899.8" y="760.1" font-family="'Liberation Serif','Times New Roman',serif" font-size="20.0" text-anchor="middle" fill="#111" stroke="#111" stroke-width="0.45">0.005</text>
<text x="989.3" y="760.1" font-family="'Liberation Serif','Times New Roman',serif" font-size="20.0" text-anchor="middle" fill="#111" stroke="#111" stroke-width="0.45">0.01</text>
<path d="M813.6,672.2 L977.5,672.2" fill="none" stroke="#1e1eff" stroke-width="3.2" stroke-linejoin="miter"/>
<rect x="1061.9" y="603.6" width="182.3" height="137.1" fill="#fff" stroke="#8c8c8c" stroke-width="2.0"/>
<g stroke="#bbb" stroke-width="1">
<line x1="1153.1" y1="740.7" x2="1153.1" y2="737.7"/>
<line x1="1153.1" y1="603.6" x2="1153.1" y2="606.6"/>
<line x1="1061.9" y1="672.2" x2="1064.9" y2="672.2"/>
<line x1="1244.2" y1="672.2" x2="1241.2" y2="672.2"/>
</g>
<text x="1058.1" y="586.7" font-family="'Liberation Serif','Times New Roman',serif" font-size="22.5" fill="#1a1a1a" textLength="203.4" lengthAdjust="spacingAndGlyphs" >Attachment Constraint</text>
<text x="1054.9" y="609.8" font-family="'Liberation Serif','Times New Roman',serif" font-size="20.0" text-anchor="end" fill="#111" stroke="#111" stroke-width="0.45">1</text>
<text x="1054.9" y="675.8" font-family="'Liberation Serif','Times New Roman',serif" font-size="20.0" text-anchor="end" fill="#111" stroke="#111" stroke-width="0.45">0</text>
<text x="1054.9" y="743.5" font-family="'Liberation Serif','Times New Roman',serif" font-size="20.0" text-anchor="end" fill="#111" stroke="#111" stroke-width="0.45">-1</text>
<text x="1058.0" y="760.1" font-family="'Liberation Serif','Times New Roman',serif" font-size="20.0" text-anchor="middle" fill="#111" stroke="#111" stroke-width="0.45">0</text>
<text x="1148.0" y="760.1" font-family="'Liberation Serif','Times New Roman',serif" font-size="20.0" text-anchor="middle" fill="#111" stroke="#111" stroke-width="0.45">0.005</text>
<text x="1237.8" y="760.1" font-family="'Liberation Serif','Times New Roman',serif" font-size="20.0" text-anchor="middle" fill="#111" stroke="#111" stroke-width="0.45">0.01</text>
<path d="M1061.9,671.7 L1226.2,671.7" fill="none" stroke="#1e1eff" stroke-width="3.2" stroke-linejoin="miter"/>
<rect x="934.9" y="804.2" width="182.1" height="136.9" fill="#fff" stroke="#8c8c8c" stroke-width="2.0"/>
<g stroke="#bbb" stroke-width="1">
<line x1="1026.0" y1="941.1" x2="1026.0" y2="938.1"/>
<line x1="1026.0" y1="804.2" x2="1026.0" y2="807.2"/>
<line x1="934.9" y1="872.7" x2="937.9" y2="872.7"/>
<line x1="1117.0" y1="872.7" x2="1114.0" y2="872.7"/>
</g>
<text x="943.0" y="783.1" font-family="'Liberation Serif','Times New Roman',serif" font-size="22.5" fill="#1a1a1a" textLength="154.4" lengthAdjust="spacingAndGlyphs" >Speed Constraint</text>
<text x="928.8" y="809.3" font-family="'Liberation Serif','Times New Roman',serif" font-size="20.0" text-anchor="end" fill="#111" stroke="#111" stroke-width="0.45">1</text>
<text x="928.8" y="872.2" font-family="'Liberation Serif','Times New Roman',serif" font-size="20.0" text-anchor="end" fill="#111" stroke="#111" stroke-width="0.45">0</text>
<text x="928.8" y="940.1" font-family="'Liberation Serif','Times New Roman',serif" font-size="20.0" text-anchor="end" fill="#111" stroke="#111" stroke-width="0.45">-1</text>
<text x="934.3" y="962.2" font-family="'Liberation Serif','Times New Roman',serif" font-size="20.0" text-anchor="middle" fill="#111" stroke="#111" stroke-width="0.45">0</text>
<text x="1024.0" y="962.2" font-family="'Liberation Serif','Times New Roman',serif" font-size="20.0" text-anchor="middle" fill="#111" stroke="#111" stroke-width="0.45">0.005</text>
<text x="1113.1" y="962.2" font-family="'Liberation Serif','Times New Roman',serif" font-size="20.0" text-anchor="middle" fill="#111" stroke="#111" stroke-width="0.45">0.01</text>
<path d="M934.9,941.1 L953.9,941.1 L972.0,804.2 L1099.5,804.2" fill="none" stroke="#1e1eff" stroke-width="3.2" stroke-linejoin="miter"/>
<text x="994.4" y="993.7" font-family="'Liberation Serif','Times New Roman',serif" font-size="28.0" fill="#1a1a1a" textLength="87.0" lengthAdjust="spacingAndGlyphs" >Time(s)</text>
<text transform="translate(773.8,783.4) rotate(-90)" x="0" y="0" font-family="'Liberation Serif','Times New Roman',serif" font-size="28.0" text-anchor="middle" fill="#1a1a1a" textLength="129.3" lengthAdjust="spacingAndGlyphs">Failure flag</text>
<text x="1018.5" y="1061.9" font-family="'Liberation Serif','Times New Roman',serif" font-size="24" text-anchor="middle" fill="#000">(<tspan stroke="#000" stroke-width="0.3">d</tspan>)</text>
<rect x="808.2" y="1153.7" width="190.3" height="141.6" fill="#fff" stroke="#8c8c8c" stroke-width="2.0"/>
<g stroke="#bbb" stroke-width="1">
<line x1="903.4" y1="1295.3" x2="903.4" y2="1292.3"/>
<line x1="903.4" y1="1153.7" x2="903.4" y2="1156.7"/>
<line x1="808.2" y1="1224.5" x2="811.2" y2="1224.5"/>
<line x1="998.5" y1="1224.5" x2="995.5" y2="1224.5"/>
</g>
<text x="799.1" y="1129.5" font-family="'Liberation Serif','Times New Roman',serif" font-size="25.0" fill="#1a1a1a" textLength="210.8" lengthAdjust="spacingAndGlyphs" >Curvature Constraint</text>
<text x="802.0" y="1163.6" font-family="'Liberation Serif','Times New Roman',serif" font-size="21.0" text-anchor="end" fill="#111" stroke="#111" stroke-width="0.45">1</text>
<text x="802.0" y="1231.1" font-family="'Liberation Serif','Times New Roman',serif" font-size="21.0" text-anchor="end" fill="#111" stroke="#111" stroke-width="0.45">0</text>
<text x="802.0" y="1301.3" font-family="'Liberation Serif','Times New Roman',serif" font-size="21.0" text-anchor="end" fill="#111" stroke="#111" stroke-width="0.45">-1</text>
<text x="807.0" y="1317.1" font-family="'Liberation Serif','Times New Roman',serif" font-size="21.0" text-anchor="middle" fill="#111" stroke="#111" stroke-width="0.45">0</text>
<text x="900.0" y="1317.1" font-family="'Liberation Serif','Times New Roman',serif" font-size="21.0" text-anchor="middle" fill="#111" stroke="#111" stroke-width="0.45">0.005</text>
<text x="990.6" y="1317.1" font-family="'Liberation Serif','Times New Roman',serif" font-size="21.0" text-anchor="middle" fill="#111" stroke="#111" stroke-width="0.45">0.01</text>
<path d="M808.2,1295.3 L827.0,1295.3 L846.0,1152.8 L979.3,1152.8" fill="none" stroke="#1e1eff" stroke-width="3.2" stroke-linejoin="miter"/>
<rect x="1067.5" y="1153.7" width="189.9" height="141.2" fill="#fff" stroke="#8c8c8c" stroke-width="2.0"/>
<g stroke="#bbb" stroke-width="1">
<line x1="1162.5" y1="1294.9" x2="1162.5" y2="1291.9"/>
<line x1="1162.5" y1="1153.7" x2="1162.5" y2="1156.7"/>
<line x1="1067.5" y1="1224.3" x2="1070.5" y2="1224.3"/>
<line x1="1257.4" y1="1224.3" x2="1254.4" y2="1224.3"/>
</g>
<text x="1062.1" y="1129.5" font-family="'Liberation Serif','Times New Roman',serif" font-size="25.0" fill="#1a1a1a" textLength="227.5" lengthAdjust="spacingAndGlyphs" >Attachment Constraint</text>
<text x="1060.7" y="1162.4" font-family="'Liberation Serif','Times New Roman',serif" font-size="21.0" text-anchor="end" fill="#111" stroke="#111" stroke-width="0.45">1</text>
<text x="1060.7" y="1229.3" font-family="'Liberation Serif','Times New Roman',serif" font-size="21.0" text-anchor="end" fill="#111" stroke="#111" stroke-width="0.45">0</text>
<text x="1060.7" y="1299.5" font-family="'Liberation Serif','Times New Roman',serif" font-size="21.0" text-anchor="end" fill="#111" stroke="#111" stroke-width="0.45">-1</text>
<text x="1064.8" y="1315.3" font-family="'Liberation Serif','Times New Roman',serif" font-size="21.0" text-anchor="middle" fill="#111" stroke="#111" stroke-width="0.45">0</text>
<text x="1157.2" y="1315.3" font-family="'Liberation Serif','Times New Roman',serif" font-size="21.0" text-anchor="middle" fill="#111" stroke="#111" stroke-width="0.45">0.005</text>
<text x="1248.3" y="1315.3" font-family="'Liberation Serif','Times New Roman',serif" font-size="21.0" text-anchor="middle" fill="#111" stroke="#111" stroke-width="0.45">0.01</text>
<path d="M1067.5,1224.2 L1238.8,1224.2" fill="none" stroke="#1e1eff" stroke-width="3.2" stroke-linejoin="miter"/>
<rect x="946.6" y="1362.8" width="190.0" height="141.2" fill="#fff" stroke="#8c8c8c" stroke-width="2.0"/>
<g stroke="#bbb" stroke-width="1">
<line x1="1041.6" y1="1504.0" x2="1041.6" y2="1501.0"/>
<line x1="1041.6" y1="1362.8" x2="1041.6" y2="1365.8"/>
<line x1="946.6" y1="1433.4" x2="949.6" y2="1433.4"/>
<line x1="1136.6" y1="1433.4" x2="1133.6" y2="1433.4"/>
</g>
<text x="954.1" y="1346.5" font-family="'Liberation Serif','Times New Roman',serif" font-size="25.0" fill="#1a1a1a" textLength="171.5" lengthAdjust="spacingAndGlyphs" >Speed Constraint</text>
<text x="937.9" y="1369.7" font-family="'Liberation Serif','Times New Roman',serif" font-size="21.0" text-anchor="end" fill="#111" stroke="#111" stroke-width="0.45">1</text>
<text x="937.9" y="1434.6" font-family="'Liberation Serif','Times New Roman',serif" font-size="21.0" text-anchor="end" fill="#111" stroke="#111" stroke-width="0.45">0</text>
<text x="937.9" y="1505.1" font-family="'Liberation Serif','Times New Roman',serif" font-size="21.0" text-anchor="end" fill="#111" stroke="#111" stroke-width="0.45">-1</text>
<text x="943.7" y="1525.2" font-family="'Liberation Serif','Times New Roman',serif" font-size="21.0" text-anchor="middle" fill="#111" stroke="#111" stroke-width="0.45">0</text>
<text x="1036.9" y="1525.2" font-family="'Liberation Serif','Times New Roman',serif" font-size="21.0" text-anchor="middle" fill="#111" stroke="#111" stroke-width="0.45">0.005</text>
<text x="1127.9" y="1525.2" font-family="'Liberation Serif','Times New Roman',serif" font-size="21.0" text-anchor="middle" fill="#111" stroke="#111" stroke-width="0.45">0.01</text>
<path d="M946.6,1434.2 L1117.1,1434.2" fill="none" stroke="#1e1eff" stroke-width="3.2" stroke-linejoin="miter"/>
<text x="1007.7" y="1554.4" font-family="'Liberation Serif','Times New Roman',serif" font-size="30.4" fill="#1a1a1a" textLength="95.1" lengthAdjust="spacingAndGlyphs" >Time(s)</text>
<text transform="translate(762.5,1339.5) rotate(-90)" x="0" y="0" font-family="'Liberation Serif','Times New Roman',serif" font-size="31.0" text-anchor="middle" fill="#1a1a1a" textLength="143.9" lengthAdjust="spacingAndGlyphs">Failure flag</text>
<text x="1018.5" y="1620.3" font-family="'Liberation Serif','Times New Roman',serif" font-size="24" text-anchor="middle" fill="#000">(<tspan stroke="#000" stroke-width="0.3">f</tspan>)</text>
</svg></body></html>
